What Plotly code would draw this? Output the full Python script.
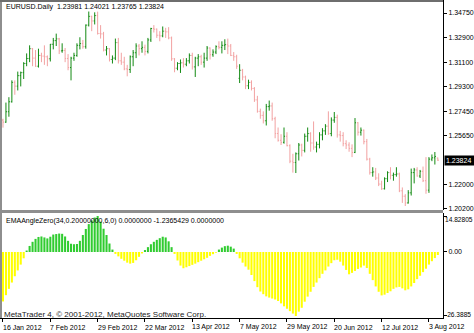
import pandas as pd
import plotly.graph_objects as go

# ---------------- data ----------------
dates = [d.strftime("%Y-%m-%d") for d in pd.bdate_range("2012-01-16", "2012-08-08")]

open_ = [
    1.2680, 1.2665, 1.2742, 1.2816, 1.2960, 1.2932, 1.3010, 1.3032, 1.3100, 1.3137,
    1.3210, 1.3140, 1.3080, 1.3160, 1.3155, 1.3150, 1.3135, 1.3243, 1.3270, 1.3283,
    1.3194, 1.3197, 1.3137, 1.3070, 1.3140, 1.3160, 1.3235, 1.3248, 1.3225, 1.3385,
    1.3450, 1.3416, 1.3456, 1.3323, 1.3320, 1.3200, 1.3210, 1.3130, 1.3140, 1.3255,
    1.3120, 1.3110, 1.3060, 1.3055, 1.3150, 1.3180, 1.3230, 1.3210, 1.3220, 1.3190,
    1.3275, 1.3360, 1.3355, 1.3310, 1.3305, 1.3340, 1.3335, 1.3290, 1.3135, 1.3065,
    1.3100, 1.3105, 1.3095, 1.3120, 1.3160, 1.3075, 1.3140, 1.3150, 1.3110, 1.3140,
    1.3215, 1.3165, 1.3185, 1.3225, 1.3220, 1.3235, 1.3240, 1.3230, 1.3160, 1.3150,
    1.2990, 1.3050, 1.3000, 1.2935, 1.2960, 1.2915, 1.2830, 1.2745, 1.2715, 1.2675,
    1.2780, 1.2785, 1.2690, 1.2580, 1.2530, 1.2515, 1.2560, 1.2490, 1.2375, 1.2365,
    1.2430, 1.2495, 1.2455, 1.2560, 1.2580, 1.2510, 1.2480, 1.2500, 1.2570, 1.2600,
    1.2635, 1.2580, 1.2680, 1.2700, 1.2570, 1.2565, 1.2505, 1.2495, 1.2470, 1.2440,
    1.2660, 1.2590, 1.2605, 1.2520, 1.2390, 1.2290, 1.2295, 1.2250, 1.2205, 1.2170,
    1.2245, 1.2290, 1.2270, 1.2275, 1.2280, 1.2155, 1.2115, 1.2065, 1.2140, 1.2290,
    1.2310, 1.2265, 1.2300, 1.2230, 1.2160, 1.2390, 1.2400, 1.23981,
]
high = [
    1.2690, 1.2810, 1.2850, 1.2975, 1.2975, 1.3040, 1.3040, 1.3110, 1.3175, 1.3235,
    1.3215, 1.3200, 1.3210, 1.3180, 1.3235, 1.3160, 1.3245, 1.3290, 1.3322, 1.3290,
    1.3250, 1.3215, 1.3170, 1.3150, 1.3180, 1.3250, 1.3295, 1.3275, 1.3390, 1.3486,
    1.3455, 1.3480, 1.3485, 1.3385, 1.3335, 1.3230, 1.3215, 1.3160, 1.3285, 1.3290,
    1.3180, 1.3150, 1.3090, 1.3160, 1.3200, 1.3250, 1.3245, 1.3265, 1.3240, 1.3290,
    1.3365, 1.3385, 1.3360, 1.3340, 1.3375, 1.3365, 1.3370, 1.3300, 1.3140, 1.3110,
    1.3130, 1.3140, 1.3140, 1.3175, 1.3180, 1.3150, 1.3170, 1.3165, 1.3180, 1.3230,
    1.3220, 1.3205, 1.3235, 1.3265, 1.3265, 1.3280, 1.3285, 1.3245, 1.3185, 1.3165,
    1.3095, 1.3060, 1.3010, 1.2980, 1.2975, 1.2925, 1.2860, 1.2765, 1.2745, 1.2800,
    1.2825, 1.2810, 1.2705, 1.2625, 1.2575, 1.2625, 1.2590, 1.2500, 1.2430, 1.2440,
    1.2510, 1.2505, 1.2580, 1.2625, 1.2590, 1.2670, 1.2520, 1.2590, 1.2620, 1.2650,
    1.2745, 1.2700, 1.2740, 1.2720, 1.2600, 1.2590, 1.2530, 1.2515, 1.2500, 1.2695,
    1.2665, 1.2625, 1.2610, 1.2540, 1.2400, 1.2330, 1.2325, 1.2285, 1.2230, 1.2255,
    1.2300, 1.2330, 1.2290, 1.2330, 1.2290, 1.2180, 1.2130, 1.2160, 1.2320, 1.2325,
    1.2330, 1.2310, 1.2335, 1.2405, 1.2405, 1.2425, 1.2443, 1.24021,
]
low = [
    1.2624, 1.2660, 1.2705, 1.2810, 1.2868, 1.2900, 1.2930, 1.2985, 1.3080, 1.3110,
    1.3080, 1.3075, 1.3070, 1.3110, 1.3090, 1.3080, 1.3115, 1.3205, 1.3230, 1.3170,
    1.3180, 1.3110, 1.3050, 1.2975, 1.3120, 1.3150, 1.3205, 1.3210, 1.3210, 1.3375,
    1.3340, 1.3390, 1.3315, 1.3285, 1.3190, 1.3160, 1.3115, 1.3100, 1.3125, 1.3100,
    1.3090, 1.3050, 1.3005, 1.3030, 1.3080, 1.3140, 1.3160, 1.3180, 1.3160, 1.3175,
    1.3260, 1.3330, 1.3290, 1.3265, 1.3295, 1.3290, 1.3280, 1.3120, 1.3035, 1.3050,
    1.3030, 1.3070, 1.3080, 1.3100, 1.3055, 1.3000, 1.3080, 1.3090, 1.3070, 1.3120,
    1.3130, 1.3150, 1.3170, 1.3205, 1.3175, 1.3200, 1.3170, 1.3155, 1.3120, 1.3060,
    1.2955, 1.2975, 1.2910, 1.2910, 1.2900, 1.2815, 1.2735, 1.2690, 1.2655, 1.2640,
    1.2750, 1.2675, 1.2545, 1.2520, 1.2495, 1.2505, 1.2485, 1.2360, 1.2290, 1.2287,
    1.2380, 1.2410, 1.2440, 1.2520, 1.2445, 1.2460, 1.2440, 1.2470, 1.2530, 1.2570,
    1.2570, 1.2560, 1.2660, 1.2550, 1.2520, 1.2485, 1.2465, 1.2445, 1.2405, 1.2435,
    1.2565, 1.2565, 1.2500, 1.2380, 1.2275, 1.2260, 1.2235, 1.2190, 1.2162, 1.2165,
    1.2220, 1.2240, 1.2230, 1.2260, 1.2145, 1.2065, 1.2042, 1.2060, 1.2120, 1.2210,
    1.2260, 1.2250, 1.2220, 1.2133, 1.2140, 1.2375, 1.2350, 1.23765,
]
close = [
    1.2665, 1.2742, 1.2816, 1.2960, 1.2932, 1.3010, 1.3032, 1.3100, 1.3137, 1.3210,
    1.3140, 1.3080, 1.3160, 1.3155, 1.3150, 1.3135, 1.3243, 1.3270, 1.3283, 1.3194,
    1.3197, 1.3137, 1.3070, 1.3140, 1.3160, 1.3235, 1.3248, 1.3225, 1.3385, 1.3450,
    1.3416, 1.3456, 1.3323, 1.3320, 1.3200, 1.3210, 1.3130, 1.3140, 1.3255, 1.3120,
    1.3110, 1.3060, 1.3055, 1.3150, 1.3180, 1.3230, 1.3210, 1.3220, 1.3190, 1.3275,
    1.3360, 1.3355, 1.3310, 1.3305, 1.3340, 1.3335, 1.3290, 1.3135, 1.3065, 1.3100,
    1.3105, 1.3095, 1.3120, 1.3160, 1.3075, 1.3140, 1.3150, 1.3110, 1.3140, 1.3215,
    1.3165, 1.3185, 1.3225, 1.3220, 1.3235, 1.3240, 1.3230, 1.3160, 1.3150, 1.3080,
    1.3050, 1.3000, 1.2935, 1.2960, 1.2915, 1.2830, 1.2745, 1.2715, 1.2675, 1.2780,
    1.2785, 1.2690, 1.2580, 1.2530, 1.2515, 1.2560, 1.2490, 1.2375, 1.2365, 1.2430,
    1.2495, 1.2455, 1.2560, 1.2580, 1.2510, 1.2480, 1.2500, 1.2570, 1.2600, 1.2635,
    1.2580, 1.2680, 1.2700, 1.2570, 1.2565, 1.2505, 1.2495, 1.2470, 1.2440, 1.2660,
    1.2590, 1.2605, 1.2520, 1.2390, 1.2290, 1.2295, 1.2250, 1.2205, 1.2170, 1.2245,
    1.2290, 1.2270, 1.2275, 1.2280, 1.2155, 1.2115, 1.2065, 1.2140, 1.2290, 1.2310,
    1.2265, 1.2300, 1.2230, 1.2160, 1.2390, 1.2400, 1.2410, 1.23824,
]
ema_angle = [
    -20.4, -17.8, -15.2, -12.6, -10.0, -7.6, -5.2, -2.6, 0.6, 2.5,
    4.2, 5.4, 6.2, 6.4, 6.0, 5.6, 6.3, 7.2, 7.4, 7.6,
    7.5, 6.4, 4.6, 3.4, 3.2, 3.3, 4.6, 7.0, 9.5, 11.5,
    13.0, 14.2, 14.83, 12.5, 9.6, 7.0, 3.5, 1.0, -0.8, -1.8,
    -2.8, -3.6, -4.4, -4.8, -4.5, -3.4, -2.0, -0.6, 0.8, 2.0,
    3.2, 4.2, 5.0, 5.7, 6.3, 6.0, 4.4, 2.0, -0.8, -3.5,
    -5.6, -6.7, -6.3, -5.8, -5.3, -4.8, -4.2, -3.6, -3.0, -2.4,
    -1.6, -0.9, -0.3, 1.0, 1.8, 2.4, 2.6, 2.2, 1.4, -0.8,
    -2.6, -4.4, -6.0, -7.3, -9.5, -12.0, -14.5, -16.3, -17.4, -18.3,
    -18.8, -19.2, -19.6, -20.2, -21.2, -22.4, -23.4, -24.4, -25.4, -26.39,
    -24.6, -23.0, -20.5, -18.4, -16.4, -14.4, -12.6, -10.8, -9.0, -7.6,
    -6.0, -4.6, -3.4, -3.2, -4.0, -5.6, -7.4, -9.2, -8.6, -7.8,
    -7.0, -6.4, -5.6, -6.6, -9.0, -11.6, -14.2, -16.4, -17.9, -17.6,
    -16.9, -16.2, -15.2, -14.6, -14.4, -15.0, -15.8, -15.4, -14.2, -12.8,
    -11.2, -9.8, -8.3, -6.9, -5.2, -3.8, -2.5, -1.24,
]

price_ticks = [1.3475, 1.3290, 1.3110, 1.2930, 1.2745, 1.2565, 1.2200, 1.2020]
price_tick_text = ["1.34750", "1.32900", "1.31100", "1.29300", "1.27450", "1.25650", "1.22000", "1.20200"]
ind_ticks = [14.82805, 0.0, -26.3885]
ind_tick_text = ["14.82805", "0.00", "-26.3885"]
date_ticks = ["2012-01-16", "2012-02-07", "2012-02-29", "2012-03-22", "2012-04-13",
              "2012-05-07", "2012-05-29", "2012-06-20", "2012-07-12", "2012-08-03"]
date_tick_text = ["16 Jan 2012", "7 Feb 2012", "29 Feb 2012", "22 Mar 2012", "13 Apr 2012",
                  "7 May 2012", "29 May 2012", "20 Jun 2012", "12 Jul 2012", "3 Aug 2012"]
last_price = 1.23824
title_main = "EURUSD.Daily\u00a0 1.23981 1.24021 1.23765 1.23824"
title_ind = "EMAAngleZero(34,0.20000000,6,0) 0.0000000 -1.2365429 0.0000000"
copyright_text = "MetaTrader 4, \u00a9 2001-2012, MetaQuotes Software Corp."

# ---------------- geometry (pixels) ----------------
W, H = 474, 333
ML, MR, MT, MB = 0, 31, 0, 15
PW, PH = W - ML - MR, H - MT - MB  # 443 x 318
FONT = "Liberation Sans, Arial, sans-serif"


def py(ypx):
    return (PH - ypx) / PH


def px(xpx):
    return xpx / PW


fig = go.Figure()
fig.add_trace(go.Ohlc(
    x=dates, open=open_, high=high, low=low, close=close,
    increasing=dict(line=dict(color="#138a13", width=1)),
    decreasing=dict(line=dict(color="#f2a2a2", width=1)),
    tickwidth=0.35, xaxis="x", yaxis="y", hoverinfo="skip", showlegend=False,
))
fig.add_trace(go.Bar(
    x=dates, y=ema_angle,
    marker=dict(color=["#30cc30" if v >= 0 else "#ffff00" for v in ema_angle], line=dict(width=0)),
    xaxis="x2", yaxis="y2", hoverinfo="skip", showlegend=False,
))

xrange_ = [-1.01, 148.75]
fig.update_layout(
    width=W, height=H,
    margin=dict(l=ML, r=MR, t=MT, b=MB, pad=0),
    paper_bgcolor="white", plot_bgcolor="white",
    font=dict(family=FONT, size=7, color="black"),
    bargap=0.3,
    showlegend=False,
    xaxis=dict(type="category", domain=[0, 1], range=xrange_, anchor="y",
               showticklabels=False, ticks="", showline=False, showgrid=False,
               zeroline=False, rangeslider=dict(visible=False), fixedrange=True),
    yaxis=dict(domain=[py(210), 1], range=[1.20125, 1.35715], side="right",
               tickvals=price_ticks, ticktext=price_tick_text,
               ticks="outside", ticklen=3, tickcolor="black", tickwidth=1,
               showline=True, linecolor="black", linewidth=1,
               showgrid=False, zeroline=False, fixedrange=True,
               tickfont=dict(family=FONT, size=7, color="black")),
    xaxis2=dict(type="category", domain=[0, 1], range=xrange_, anchor="y2", matches="x",
                tickvals=date_ticks, ticktext=[""] * len(date_ticks),
                ticks="outside", ticklen=3, tickcolor="black", tickwidth=1,
                showline=True, linecolor="black", linewidth=1,
                showgrid=False, zeroline=False, fixedrange=True),
    yaxis2=dict(domain=[0, py(213)], range=[-27.22, 16.08], side="right",
                tickvals=ind_ticks, ticktext=["", ind_tick_text[1], ""],
                ticks="outside", ticklen=3, tickcolor="black", tickwidth=1,
                showline=True, linecolor="black", linewidth=1,
                showgrid=False, zeroline=False, fixedrange=True,
                tickfont=dict(family=FONT, size=7, color="black")),
)

# frame pieces (MetaTrader window borders)
shapes = [
    dict(type="rect", xref="paper", yref="paper", x0=0, x1=px(2), y0=0, y1=1,
         fillcolor="#8e8e8e", line=dict(width=0), layer="above"),
    dict(type="rect", xref="paper", yref="paper", x0=0, x1=1, y0=py(2), y1=1,
         fillcolor="#6e6e6e", line=dict(width=0), layer="above"),
    dict(type="rect", xref="paper", yref="paper", x0=0, x1=1, y0=py(213), y1=py(210),
         fillcolor="#8e8e8e", line=dict(width=0), layer="above"),
]
fig.update_layout(shapes=shapes)

ann = []
# x tick labels, left-aligned at the tick like MetaTrader
for d, t in zip(date_ticks, date_tick_text):
    ann.append(dict(x=d, xref="x2", y=py(327), yref="paper", text=t, showarrow=False,
                    xanchor="left", yanchor="middle", xshift=-2,
                    font=dict(family=FONT, size=7, color="black")))
# indicator scale extremes (drawn inside the sub-window like MT4)
ann.append(dict(x=1, xref="paper", y=py(219), yref="paper", text=ind_tick_text[0],
                showarrow=False, xanchor="left", yanchor="middle", xshift=1,
                borderpad=0, font=dict(family=FONT, size=6.6, color="black")))
ann.append(dict(x=1, xref="paper", y=py(314), yref="paper", text=ind_tick_text[2],
                showarrow=False, xanchor="left", yanchor="middle", xshift=1,
                borderpad=0, font=dict(family=FONT, size=6.6, color="black")))
# current price box
ann.append(dict(x=1, xref="paper", y=last_price, yref="y", text="%.5f" % last_price,
                showarrow=False, xanchor="left", yanchor="middle", xshift=1,
                bgcolor="black", borderpad=1, width=30, align="left",
                font=dict(family=FONT, size=7, color="white")))
# window titles
ann.append(dict(x=px(4), xref="paper", y=py(7), yref="paper", text=title_main,
                showarrow=False, xanchor="left", yanchor="middle",
                font=dict(family=FONT, size=7, color="black")))
ann.append(dict(x=px(4), xref="paper", y=py(221), yref="paper", text=title_ind,
                showarrow=False, xanchor="left", yanchor="middle",
                font=dict(family=FONT, size=7, color="black")))
ann.append(dict(x=px(2), xref="paper", y=py(314), yref="paper", text=copyright_text,
                showarrow=False, xanchor="left", yanchor="middle",
                font=dict(family=FONT, size=8, color="#202020")))
fig.update_layout(annotations=ann)

fig.write_html("out.html", config=dict(displayModeBar=False, staticPlot=True))
